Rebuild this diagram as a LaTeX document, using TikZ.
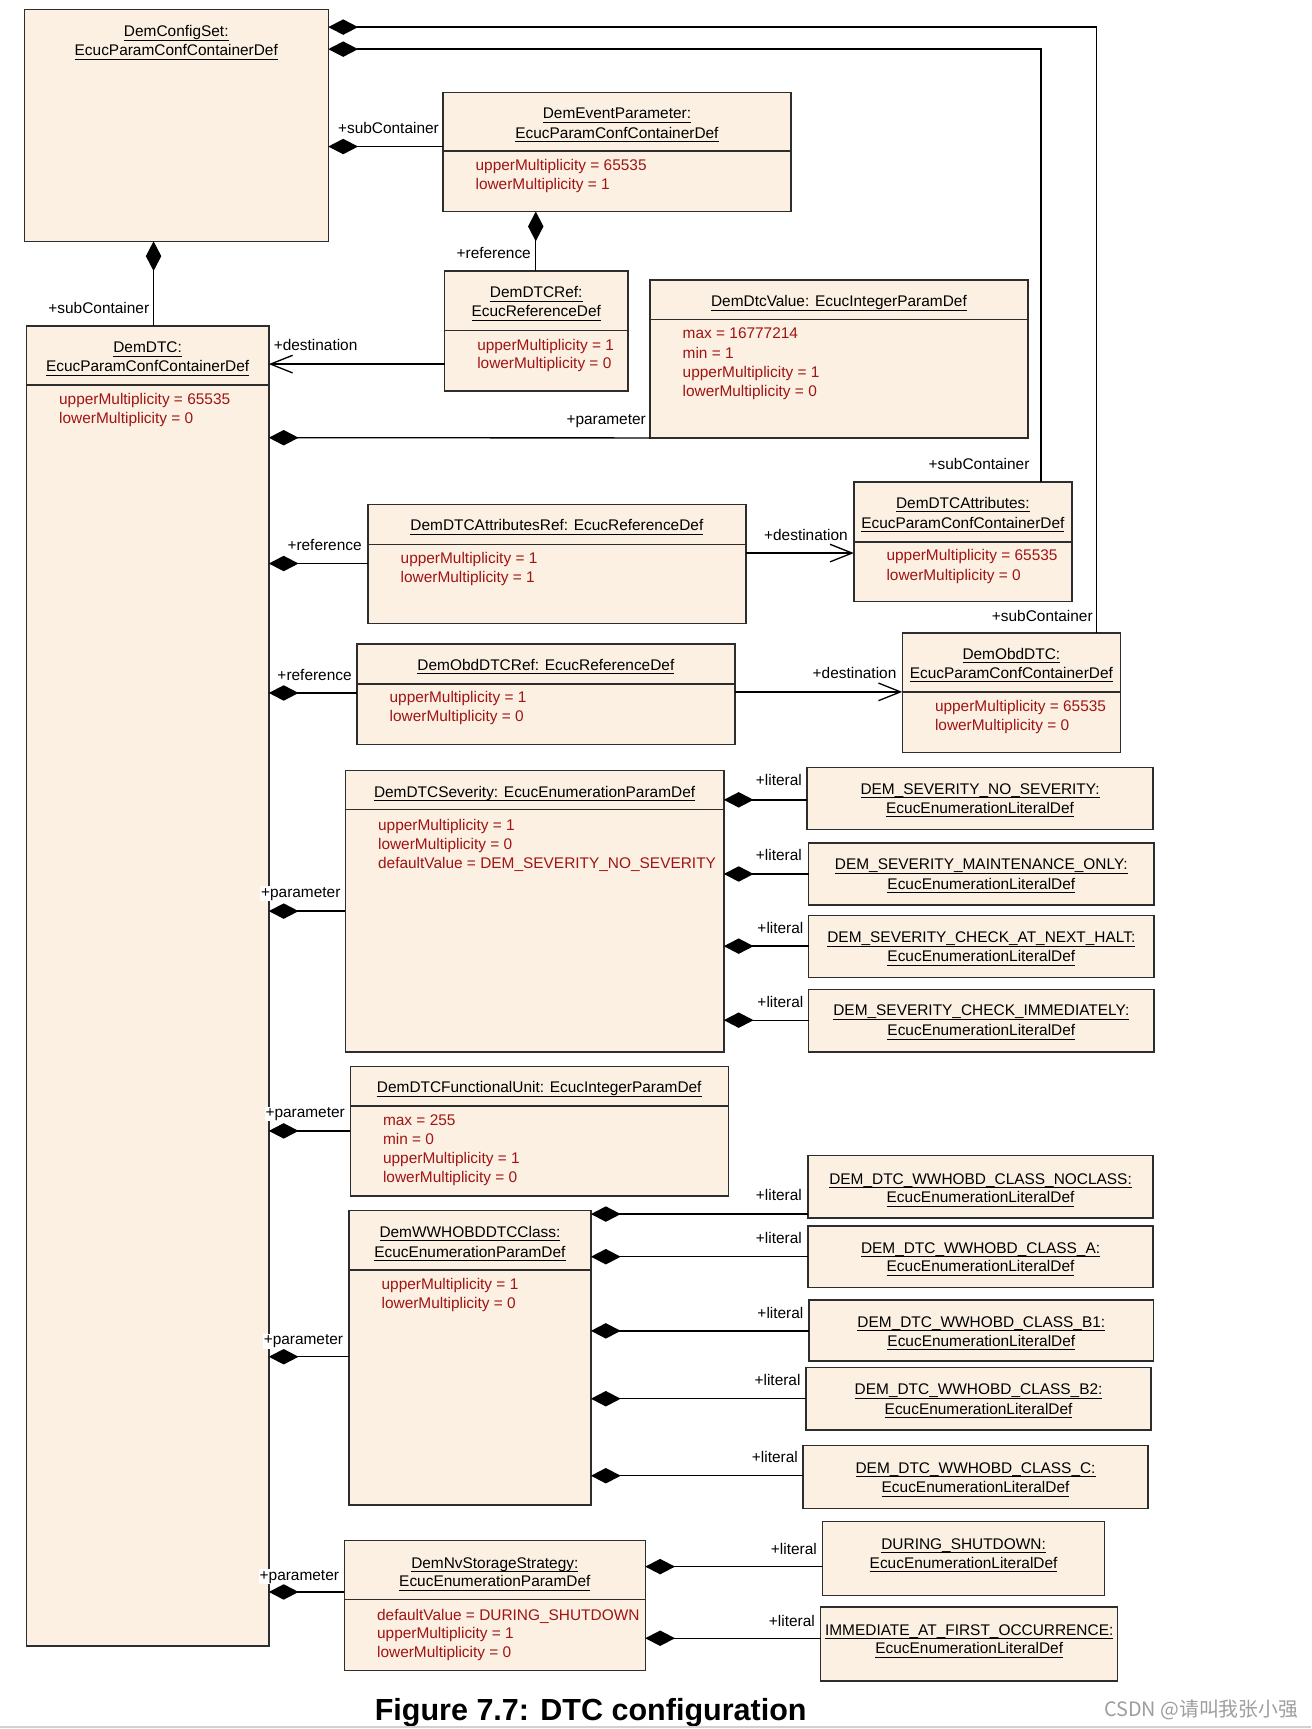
\documentclass[tikz,border=0pt]{standalone}
\usepackage{fontspec}
\setmainfont{Liberation Sans}
\newfontfamily\cjkfont{Noto Sans CJK SC}
\usetikzlibrary{arrows.meta}
\definecolor{boxfill}{RGB}{251,240,226}
\definecolor{attrred}{RGB}{160,20,20}
\definecolor{boxline}{RGB}{45,45,45}
\newcommand\ulx[1]{\setbox0\hbox{#1}\leavevmode\rlap{\rule[-3.6pt]{\wd0}{0.9pt}}\box0}
\newcommand\ubox[5]{\node[umlbox, minimum width=#4pt, minimum height=#5pt] (#1) at (#2,#3) {};}
\newcommand\usep[2]{\draw[sepl] (#1.west |- 0,#2) -- (#1.east |- 0,#2);}
\tikzset{
  umlbox/.style={draw=boxline, line width=1.3pt, fill=boxfill, rectangle, inner sep=0pt, outer sep=0pt, anchor=north west},
  sepl/.style={draw=boxline, line width=1.3pt},
  ttl/.style={anchor=base, inner sep=0pt, font=\fontsize{14}{17}\selectfont},
  attrtxt/.style={anchor=base west, inner sep=0pt, text=attrred, font=\fontsize{14}{17}\selectfont},
  lbl/.style={anchor=base east, inner sep=0pt, font=\fontsize{14}{17}\selectfont},
  lblw/.style={lbl, fill=white, inner sep=0.8pt},
  conn/.style={draw=black, line width=1.2pt},
  comp/.style={conn, {Diamond[length=27pt,width=14pt]}-},
  dest/.style={conn, -{Straight Barb[length=20pt,width=16pt,line width=1.2pt]}},
}
\begin{document}
\begin{tikzpicture}[x=1pt,y=-1pt]
\fill[white] (0,0) rectangle (1190,1569.4);
\useasboundingbox (0,0) rectangle (1190,1569.4);

% ---------- boxes ----------
\ubox{cfg}{22}{8.5}{276}{210.5}
\ubox{evt}{402}{84}{316}{108}
\usep{evt}{137}
\ubox{dtcref}{403.5}{246}{166.5}{109}
\usep{dtcref}{300}
\ubox{dtcval}{590}{254}{343}{143.5}
\usep{dtcval}{290}
\ubox{dtc}{24}{296}{220}{1198}
\usep{dtc}{349.5}
\ubox{attrref}{334}{458}{343}{108}
\usep{attrref}{494}
\ubox{attr}{775}{437.6}{198}{108.4}
\usep{attr}{492}
\ubox{obdref}{324}{584.5}{343}{91.5}
\usep{obdref}{621}
\ubox{obd}{819}{574.6}{198}{108.4}
\usep{obd}{628}
\ubox{sev}{313.5}{699.5}{343.5}{255.5}
\usep{sev}{735}
\ubox{lit1}{732.6}{696.8}{314}{56.2}
\ubox{lit2}{734}{765}{313.5}{56.5}
\ubox{lit3}{734}{831}{313.5}{56}
\ubox{lit4}{734}{898}{313.5}{57}
\ubox{fu}{318}{968}{343}{117.6}
\usep{fu}{1004}
\ubox{wwh}{316.7}{1099}{219.7}{267}
\usep{wwh}{1152.8}
\ubox{lw1}{733.5}{1049}{313.1}{56.6}
\ubox{lw2}{733.5}{1113}{313.1}{55.8}
\ubox{lw3}{734.5}{1180}{312.5}{55.5}
\ubox{lw4}{731.7}{1241.4}{313.1}{56.6}
\ubox{lw5}{729}{1312}{313}{57}
\ubox{nv}{312.6}{1398.5}{273.1}{118}
\usep{nv}{1452}
\ubox{ln1}{746.7}{1381}{255.9}{67}
\ubox{ln2}{745}{1458.7}{269.5}{67.3}

% ---------- connectors ----------
\draw[comp] (cfg.east |- 0,24.6) -| (obd.north -| 995,0);
\draw[comp] (cfg.east |- 0,44.6) -| (attr.north -| 945,0);
\draw[comp] (cfg.east |- 0,133) -- (evt.west |- 0,133);
\draw[comp] (cfg.south -| 139.4,0) -- (dtc.north -| 139.4,0);
\draw[comp] (evt.south -| 486.3,0) -- (dtcref.north -| 486.3,0);
\draw[dest] (dtcref.west |- 0,330.5) -- (dtc.east |- 0,330.5);
\draw[comp] (dtc.east |- 0,397.3) -- (dtcval.south west);
\draw[comp] (dtc.east |- 0,511.5) -- (attrref.west |- 0,511.5);
\draw[dest] (attrref.east |- 0,502) -- (attr.west |- 0,502);
\draw[comp] (dtc.east |- 0,629) -- (obdref.west |- 0,629);
\draw[dest] (obdref.east |- 0,628) -- (obd.west |- 0,628);
\draw[comp] (dtc.east |- 0,827) -- (sev.west |- 0,827);
\draw[comp] (dtc.east |- 0,1026.5) -- (fu.west |- 0,1026.5);
\draw[comp] (dtc.east |- 0,1231.5) -- (wwh.west |- 0,1231.5);
\draw[comp] (dtc.east |- 0,1445) -- (nv.west |- 0,1445);
\draw[comp] (sev.east |- 0,726) -- (lit1.west |- 0,726);
\draw[comp] (sev.east |- 0,793.3) -- (lit2.west |- 0,793.3);
\draw[comp] (sev.east |- 0,858.8) -- (lit3.west |- 0,858.8);
\draw[comp] (sev.east |- 0,926) -- (lit4.west |- 0,926);
\draw[comp] (wwh.east |- 0,1102) -- (lw1.west |- 0,1102);
\draw[comp] (wwh.east |- 0,1140.7) -- (lw2.west |- 0,1140.7);
\draw[comp] (wwh.east |- 0,1208) -- (lw3.west |- 0,1208);
\draw[comp] (wwh.east |- 0,1269.6) -- (lw4.west |- 0,1269.6);
\draw[comp] (wwh.east |- 0,1339.5) -- (lw5.west |- 0,1339.5);
\draw[comp] (nv.east |- 0,1422) -- (ln1.west |- 0,1422);
\draw[comp] (nv.east |- 0,1487) -- (ln2.west |- 0,1487);

% ---------- titles ----------
\node[ttl] (cfgA) at (cfg.north |- 0,33.3) {\ulx{DemConfigSet:}};
\node[ttl] (cfgB) at (cfg.north |- 0,50.8) {\ulx{EcucParamConfContainerDef}};
\node[ttl] (evtA) at (evt.north |- 0,108) {\ulx{DemEventParameter:}};
\node[ttl] (evtB) at (evt.north |- 0,125.3) {\ulx{EcucParamConfContainerDef}};
\node[ttl] (dtcrefA) at (dtcref.north |- 0,270.2) {\ulx{DemDTCRef:}};
\node[ttl] (dtcrefB) at (dtcref.north |- 0,287.4) {\ulx{EcucReferenceDef}};
\node[ttl] (dtcvalA) at (dtcval.north |- 0,278.4) {\ulx{DemDtcValue: EcucIntegerParamDef}};
\node[ttl] (dtcA) at (dtc.north |- 0,320) {\ulx{DemDTC:}};
\node[ttl] (dtcB) at (dtc.north |- 0,337.4) {\ulx{EcucParamConfContainerDef}};
\node[ttl] (attrrefA) at (attrref.north |- 0,481.7) {\ulx{DemDTCAttributesRef: EcucReferenceDef}};
\node[ttl] (attrA) at (attr.north |- 0,461.4) {\ulx{DemDTCAttributes:}};
\node[ttl] (attrB) at (attr.north |- 0,479.6) {\ulx{EcucParamConfContainerDef}};
\node[ttl] (obdrefA) at (obdref.north |- 0,608.2) {\ulx{DemObdDTCRef: EcucReferenceDef}};
\node[ttl] (obdA) at (obd.north |- 0,598.5) {\ulx{DemObdDTC:}};
\node[ttl] (obdB) at (obd.north |- 0,615.7) {\ulx{EcucParamConfContainerDef}};
\node[ttl] (sevA) at (sev.north |- 0,723.7) {\ulx{DemDTCSeverity: EcucEnumerationParamDef}};
\node[ttl] (lit1A) at (lit1.north |- 0,721) {\ulx{DEM\_SEVERITY\_NO\_SEVERITY:}};
\node[ttl] (lit1B) at (lit1.north |- 0,738.3) {\ulx{EcucEnumerationLiteralDef}};
\node[ttl] (lit2A) at (lit2.north |- 0,789.5) {\ulx{DEM\_SEVERITY\_MAINTENANCE\_ONLY:}};
\node[ttl] (lit2B) at (lit2.north |- 0,807) {\ulx{EcucEnumerationLiteralDef}};
\node[ttl] (lit3A) at (lit3.north |- 0,855.7) {\ulx{DEM\_SEVERITY\_CHECK\_AT\_NEXT\_HALT:}};
\node[ttl] (lit3B) at (lit3.north |- 0,872.9) {\ulx{EcucEnumerationLiteralDef}};
\node[ttl] (lit4A) at (lit4.north |- 0,922.2) {\ulx{DEM\_SEVERITY\_CHECK\_IMMEDIATELY:}};
\node[ttl] (lit4B) at (lit4.north |- 0,940.1) {\ulx{EcucEnumerationLiteralDef}};
\node[ttl] (fuA) at (fu.north |- 0,991.8) {\ulx{DemDTCFunctionalUnit: EcucIntegerParamDef}};
\node[ttl] (wwhA) at (wwh.north |- 0,1123.1) {\ulx{DemWWHOBDDTCClass:}};
\node[ttl] (wwhB) at (wwh.north |- 0,1141.3) {\ulx{EcucEnumerationParamDef}};
\node[ttl] (lw1A) at (lw1.north |- 0,1074.7) {\ulx{DEM\_DTC\_WWHOBD\_CLASS\_NOCLASS:}};
\node[ttl] (lw1B) at (lw1.north |- 0,1091.7) {\ulx{EcucEnumerationLiteralDef}};
\node[ttl] (lw2A) at (lw2.north |- 0,1137.6) {\ulx{DEM\_DTC\_WWHOBD\_CLASS\_A:}};
\node[ttl] (lw2B) at (lw2.north |- 0,1154.3) {\ulx{EcucEnumerationLiteralDef}};
\node[ttl] (lw3A) at (lw3.north |- 0,1204.8) {\ulx{DEM\_DTC\_WWHOBD\_CLASS\_B1:}};
\node[ttl] (lw3B) at (lw3.north |- 0,1221.8) {\ulx{EcucEnumerationLiteralDef}};
\node[ttl] (lw4A) at (lw4.north |- 0,1266.2) {\ulx{DEM\_DTC\_WWHOBD\_CLASS\_B2:}};
\node[ttl] (lw4B) at (lw4.north |- 0,1283.5) {\ulx{EcucEnumerationLiteralDef}};
\node[ttl] (lw5A) at (lw5.north |- 0,1337.3) {\ulx{DEM\_DTC\_WWHOBD\_CLASS\_C:}};
\node[ttl] (lw5B) at (lw5.north |- 0,1354.9) {\ulx{EcucEnumerationLiteralDef}};
\node[ttl] (nvA) at (nv.north |- 0,1423.6) {\ulx{DemNvStorageStrategy:}};
\node[ttl] (nvB) at (nv.north |- 0,1440.2) {\ulx{EcucEnumerationParamDef}};
\node[ttl] (ln1A) at (ln1.north |- 0,1406.3) {\ulx{DURING\_SHUTDOWN:}};
\node[ttl] (ln1B) at (ln1.north |- 0,1423.6) {\ulx{EcucEnumerationLiteralDef}};
\node[ttl] (ln2A) at (ln2.north |- 0,1484.1) {\ulx{IMMEDIATE\_AT\_FIRST\_OCCURRENCE:}};
\node[ttl] (ln2B) at (ln2.north |- 0,1501.3) {\ulx{EcucEnumerationLiteralDef}};

% ---------- attributes ----------
\node[attrtxt, xshift=29.5pt] (evt1) at (evt.west |- 0,155) {upperMultiplicity = 65535};
\node[attrtxt, xshift=29.5pt] (evt2) at (evt.west |- 0,171.9) {lowerMultiplicity = 1};
\node[attrtxt, xshift=29.5pt] (dtcref1) at (dtcref.west |- 0,317.7) {upperMultiplicity = 1};
\node[attrtxt, xshift=29.5pt] (dtcref2) at (dtcref.west |- 0,334.7) {lowerMultiplicity = 0};
\node[attrtxt, xshift=29.5pt] (dtcval1) at (dtcval.west |- 0,307) {max = 16777214};
\node[attrtxt, xshift=29.5pt] (dtcval2) at (dtcval.west |- 0,325.2) {min = 1};
\node[attrtxt, xshift=29.5pt] (dtcval3) at (dtcval.west |- 0,342.5) {upperMultiplicity = 1};
\node[attrtxt, xshift=29.5pt] (dtcval4) at (dtcval.west |- 0,360) {lowerMultiplicity = 0};
\node[attrtxt, xshift=29.5pt] (dtc1) at (dtc.west |- 0,367) {upperMultiplicity = 65535};
\node[attrtxt, xshift=29.5pt] (dtc2) at (dtc.west |- 0,384.2) {lowerMultiplicity = 0};
\node[attrtxt, xshift=29.5pt] (attrref1) at (attrref.west |- 0,511.3) {upperMultiplicity = 1};
\node[attrtxt, xshift=29.5pt] (attrref2) at (attrref.west |- 0,528.6) {lowerMultiplicity = 1};
\node[attrtxt, xshift=29.5pt] (attr1) at (attr.west |- 0,508.9) {upperMultiplicity = 65535};
\node[attrtxt, xshift=29.5pt] (attr2) at (attr.west |- 0,526.5) {lowerMultiplicity = 0};
\node[attrtxt, xshift=29.5pt] (obdref1) at (obdref.west |- 0,637.8) {upperMultiplicity = 1};
\node[attrtxt, xshift=29.5pt] (obdref2) at (obdref.west |- 0,655) {lowerMultiplicity = 0};
\node[attrtxt, xshift=29.5pt] (obd1) at (obd.west |- 0,646) {upperMultiplicity = 65535};
\node[attrtxt, xshift=29.5pt] (obd2) at (obd.west |- 0,663.2) {lowerMultiplicity = 0};
\node[attrtxt, xshift=29.5pt] (sev1) at (sev.west |- 0,753.4) {upperMultiplicity = 1};
\node[attrtxt, xshift=29.5pt] (sev2) at (sev.west |- 0,771) {lowerMultiplicity = 0};
\node[attrtxt, xshift=29.5pt] (sev3) at (sev.west |- 0,788.2) {defaultValue = DEM\_SEVERITY\_NO\_SEVERITY};
\node[attrtxt, xshift=29.5pt] (fu1) at (fu.west |- 0,1021.8) {max = 255};
\node[attrtxt, xshift=29.5pt] (fu2) at (fu.west |- 0,1038.7) {min = 0};
\node[attrtxt, xshift=29.5pt] (fu3) at (fu.west |- 0,1056) {upperMultiplicity = 1};
\node[attrtxt, xshift=29.5pt] (fu4) at (fu.west |- 0,1073.5) {lowerMultiplicity = 0};
\node[attrtxt, xshift=29.5pt] (wwh1) at (wwh.west |- 0,1170.3) {upperMultiplicity = 1};
\node[attrtxt, xshift=29.5pt] (wwh2) at (wwh.west |- 0,1187.6) {lowerMultiplicity = 0};
\node[attrtxt, xshift=29.5pt] (nv1) at (nv.west |- 0,1470.5) {defaultValue = DURING\_SHUTDOWN};
\node[attrtxt, xshift=29.5pt] (nv2) at (nv.west |- 0,1487.4) {upperMultiplicity = 1};
\node[attrtxt, xshift=29.5pt] (nv3) at (nv.west |- 0,1504.7) {lowerMultiplicity = 0};

% ---------- role labels ----------
\node[lbl] (r1) at (398.5,121) {+subContainer};
\node[lbl] (r2) at (482,234.8) {+reference};
\node[lbl] (r3) at (135.6,284.4) {+subContainer};
\node[lbl, anchor=base west] (r4) at (248.3,318.3) {+destination};
\node[lbl] (r5) at (586.4,385.5) {+parameter};
\node[lbl] (r6) at (934.6,426.6) {+subContainer};
\node[lbl] (r7) at (992,564.3) {+subContainer};
\node[lbl] (r8) at (328.5,499.9) {+reference};
\node[lbl] (r9) at (769.7,490.2) {+destination};
\node[lbl] (r10) at (319.4,617.9) {+reference};
\node[lbl] (r11) at (813.8,615.7) {+destination};
\node[lblw] (r12) at (310,814.5) {+parameter};
\node[lbl] (r13) at (728,713.4) {+literal};
\node[lbl] (r14) at (728,781.2) {+literal};
\node[lbl] (r15) at (729.4,847.2) {+literal};
\node[lbl] (r16) at (729.4,914.3) {+literal};
\node[lblw] (r17) at (314,1014.2) {+parameter};
\node[lbl] (r18) at (728,1089.9) {+literal};
\node[lbl] (r19) at (728,1128.6) {+literal};
\node[lbl] (r20) at (729.4,1196.6) {+literal};
\node[lbl] (r21) at (726.8,1257.8) {+literal};
\node[lbl] (r22) at (724.4,1327.6) {+literal};
\node[lblw] (r23) at (312.4,1220.8) {+parameter};
\node[lblw] (r24) at (308.7,1434.2) {+parameter};
\node[lbl] (r25) at (741.6,1410.8) {+literal};
\node[lbl] (r26) at (739.8,1476) {+literal};

% ---------- caption, watermark ----------
\node[anchor=base west, inner sep=0pt, font=\bfseries\fontsize{27.7}{32}\selectfont] (cap) at (340,1561.3) {Figure 7.7: DTC configuration};
\node[anchor=base west, inner sep=0pt, text=black!38, font=\cjkfont\fontsize{18}{21}\selectfont] (wm) at (1002,1558) {CSDN @请叫我张小强};
\draw[black!18, line width=1.5pt] (0,1567.5) -- (1190,1567.5);
\end{tikzpicture}
\end{document}
